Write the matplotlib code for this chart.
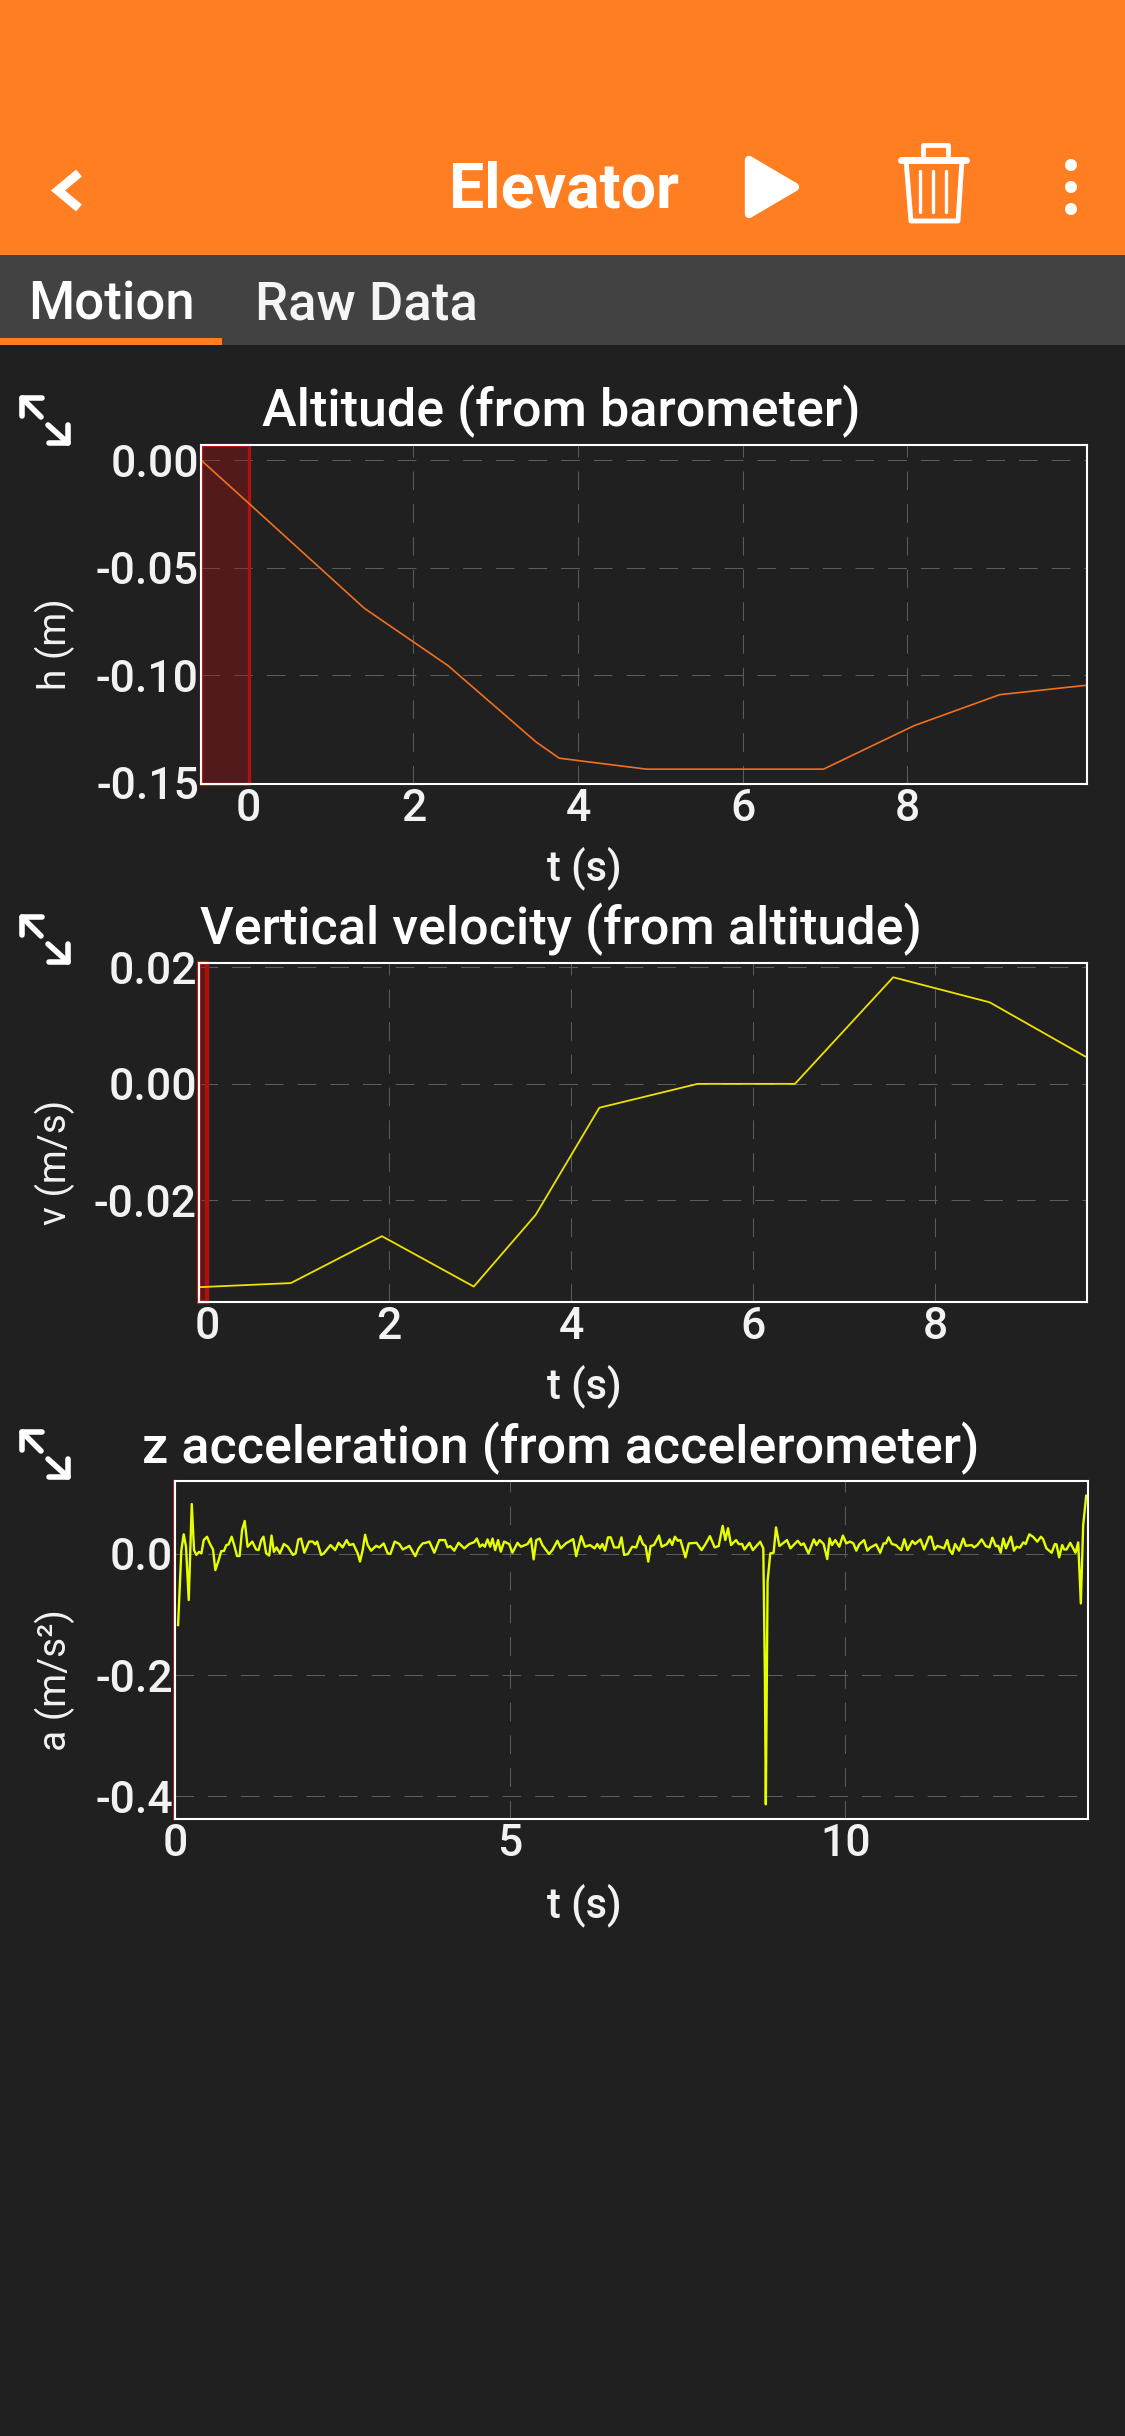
import matplotlib
matplotlib.use("Agg")
import matplotlib.pyplot as plt
from matplotlib.patches import Rectangle, Polygon, Circle

plt.rcParams['font.family'] = ['Roboto', 'DejaVu Sans']
plt.rcParams['font.weight'] = 'medium'

W = 1125
H = 2436
BG = '#202020'
ORANGE = '#FF7E22'

# altitude
alt_t = [-0.58, 0.0, 1.405, 2.42, 3.49, 3.77, 4.83, 6.98, 8.08, 9.12, 10.18]
alt_h = [0.0, -0.0201, -0.0689, -0.0955, -0.131, -0.1385, -0.1436, -0.1436, -0.1234, -0.109, -0.1046]

# velocity
vel_t = [-0.08, 0.92, 1.92, 2.93, 3.61, 4.31, 5.39, 6.46, 7.54, 8.6, 9.65]
vel_v = [-0.0349, -0.0342, -0.02615, -0.0348, -0.0225, -0.0041, 0.0, 0.0, 0.0183, 0.014, 0.0047]

acc_t = [0.046, 0.095, 0.13, 0.164, 0.205, 0.25, 0.284, 0.319, 0.359, 0.394, 0.428, 0.478, 0.518, 0.567, 0.602,
         0.652, 0.69, 0.73, 0.766, 0.80, 0.845, 0.89, 0.925, 0.964, 1.0, 1.04, 1.083, 1.153, 1.21, 1.247,
         1.287, 1.32, 1.36, 1.406, 1.44, 1.475, 1.515, 1.565, 1.624, 1.683, 1.76, 1.80, 1.84, 1.88, 1.93,
         2.0, 2.056, 2.09, 2.12, 2.18, 2.22, 2.32, 2.39, 2.44, 2.50, 2.56,
         2.60, 2.66, 2.726, 2.76, 2.80, 2.836, 2.875, 2.925, 3.0, 3.05, 3.113, 3.173, 3.213, 3.277, 3.347,
         3.397, 3.456, 3.496, 3.545, 3.585, 3.635, 3.694, 3.744, 3.794, 3.868, 3.943, 4.027, 4.067, 4.106,
         4.166, 4.23, 4.315, 4.39, 4.463, 4.503, 4.548, 4.588, 4.622, 4.662, 4.702, 4.737, 4.776, 4.82,
         4.86, 4.91, 4.985, 5.034, 5.11, 5.16, 5.26, 5.31, 5.35, 5.39, 5.44, 5.48, 5.58, 5.63, 5.705, 5.755,
         5.83, 5.94, 5.985, 6.06, 6.116, 6.19,
         6.26, 6.30, 6.34, 6.375, 6.415, 6.46, 6.50, 6.55, 6.62, 6.66, 6.70, 6.757, 6.82, 6.88, 6.936, 6.98,
         7.02, 7.06, 7.095, 7.145, 7.22, 7.26, 7.34, 7.38, 7.417, 7.457, 7.50, 7.54, 7.615, 7.665, 7.78,
         7.855, 7.915, 7.98, 8.05, 8.11, 8.17, 8.21, 8.25, 8.295, 8.37, 8.41, 8.46, 8.495, 8.57, 8.62, 8.73,
         8.776, 8.80, 8.814, 8.84, 8.88, 8.93, 8.966, 9.016, 9.13, 9.18, 9.29, 9.34, 9.38, 9.45, 9.53, 9.57,
         9.616, 9.676, 9.73, 9.765, 9.80, 9.85,
         9.91, 9.964, 10.014, 10.07, 10.12, 10.163, 10.207, 10.28, 10.327, 10.37, 10.46, 10.52, 10.57, 10.605,
         10.645, 10.694, 10.753, 10.793, 10.833, 10.88, 10.927, 11.0, 11.04, 11.12, 11.175, 11.25, 11.28,
         11.33, 11.374, 11.473, 11.52, 11.557, 11.597, 11.637, 11.697, 11.76, 11.796, 11.885, 11.92, 11.97,
         12.034, 12.094, 12.15, 12.193, 12.243, 12.28, 12.317, 12.357, 12.396, 12.47, 12.516, 12.555, 12.605,
         12.655, 12.69, 12.744, 12.80, 12.863, 12.918, 12.95, 13.0, 13.077, 13.126, 13.15, 13.19, 13.235,
         13.265, 13.3, 13.355, 13.434, 13.474, 13.513, 13.548, 13.593]
acc_a = [-0.1176, 0.006, 0.032, 0.0115, -0.0764, 0.082, 0.006, -0.002, 0.003, 0.0005, 0.0225, 0.028, 0.017, 0.007, -0.027,
         -0.0104, 0.0044, 0.0044, 0.0143, 0.0154, 0.028, 0.0115, -0.0038, -0.0038, 0.039, 0.054, 0.0115, 0.02, 0.007, 0.006,
         0.0225, 0.028, 0.0005, -0.003, 0.03, 0.003, 0.0104, 0.0005, 0.016, 0.0115, -0.002, 0.0005, 0.0236, 0.025, 0.0016,
         0.02, 0.02, 0.0154, 0.02, -0.002, 0.0005, 0.0143, 0.006, 0.018, 0.0104, 0.0225,
         0.0143, 0.016, 0.0005, -0.013, 0.006, 0.0313, 0.0143, 0.005, 0.013, 0.0104, 0.017, 0.0005, -0.0005, 0.02, 0.016,
         0.007, 0.0104, 0.013, 0.0033, -0.004, 0.0088, 0.017, 0.018, 0.02, 0.0016, 0.0225, 0.0225, 0.0104, 0.0126,
         0.005, 0.018, 0.0088, 0.016, 0.019, 0.025, 0.0115, 0.0154, 0.0115, 0.0236, 0.0115, 0.025, 0.006, 0.0225,
         0.0033, 0.02, 0.016, 0.0016, 0.018, 0.0115, 0.016, 0.025, -0.0093, 0.0225, 0.025, 0.0143, -0.0005, 0.006, 0.0214, 0.0088,
         0.017, 0.024, -0.004, 0.029, 0.0115, 0.0143,
         0.0088, 0.016, 0.0088, 0.016, 0.005, 0.027, 0.027, 0.0104, 0.0104, 0.027, -0.002, -0.0005, 0.0115, 0.0104, 0.029, 0.016,
         0.0126, -0.013, 0.0126, 0.0143, 0.03, 0.0115, 0.016, 0.0236, 0.0143, 0.028, 0.0214, 0.0225, -0.006, 0.017, 0.018,
         0.006, 0.016, 0.029, 0.0104, 0.0126, 0.046, 0.0225, 0.042, 0.0143, 0.0225, 0.016, 0.016, 0.007, 0.018, 0.006, 0.0198,
         0.0088, -0.203, -0.4132, -0.046, 0.0005, 0.0016, 0.0434, 0.0126, 0.0225, 0.0088, 0.0214, 0.0143, 0.017, 0.0005, 0.0236, 0.0143,
         0.0225, 0.016, -0.0088, 0.0253, 0.0143, 0.0225,
         0.0115, 0.03, 0.017, 0.02, 0.017, 0.005, 0.0154, 0.0225, 0.005, 0.01, 0.0154, 0.0016, 0.017, 0.017,
         0.027, 0.016, 0.0143, 0.01, 0.006, 0.024, 0.006, 0.021, 0.016, 0.0236, 0.007, 0.028, 0.028,
         0.007, 0.013, 0.0088, 0.0225, 0.006, -0.0005, 0.016, 0.005, 0.025, 0.013, 0.0143, 0.0104, 0.0143,
         0.0236, 0.0126, 0.0104, 0.0264, 0.0126, 0.013, 0.0016, 0.025, 0.0088, 0.028, 0.005, 0.0115, 0.01,
         0.0187, 0.016, 0.032, 0.028, 0.02, 0.028, 0.024, 0.0088, 0.0016, 0.016, 0.0154, -0.006, 0.0143,
         0.007, 0.007, 0.018, 0.0016, 0.0187, -0.082, 0.047, 0.0956]

alt_xticks = [0, 2, 4, 6, 8]
alt_yticks = [0.0, -0.05, -0.10, -0.15]
alt_ylabels = ['0.00', '-0.05', '-0.10', '-0.15']
vel_xticks = [0, 2, 4, 6, 8]
vel_yticks = [0.02, 0.0, -0.02]
vel_ylabels = ['0.02', '0.00', '-0.02']
acc_xticks = [0, 5, 10]
acc_yticks = [0.0, -0.2, -0.4]
acc_ylabels = ['0.0', '-0.2', '-0.4']

fig = plt.figure(figsize=(W / 100, H / 100), dpi=100, facecolor=BG)

# full size overlay in pixel coordinates for the app chrome
ui = fig.add_axes([0, 0, 1, 1], zorder=5)
ui.set_xlim(0, W)
ui.set_ylim(H, 0)
ui.axis('off')
ui.patch.set_alpha(0)


def make_axes(left, right, top, bottom, xlim, ylim, xticks, yticks, ylabels, ylabel, ylab_x, band, band_lw):
    ax = fig.add_axes([left / W, 1 - bottom / H, (right - left) / W, (bottom - top) / H], facecolor=BG)
    ax.set_xlim(*xlim)
    ax.set_ylim(*ylim)
    ax.set_xticks(xticks)
    ax.set_xticklabels([str(x) for x in xticks])
    ax.set_yticks(yticks)
    ax.set_yticklabels(ylabels)
    ax.tick_params(length=0, labelsize=32, labelcolor='#f2f2f2', pad=3)
    ax.tick_params(axis='y', pad=1.5)
    ax.grid(True, color='#5c5c5c', lw=0.72, linestyle=(0, (18.7, 14)))
    ax.set_axisbelow(True)
    for s in ax.spines.values():
        s.set_color('white')
        s.set_linewidth(1.5)
        s.set_zorder(4)
    ax.set_ylabel(ylabel, fontsize=28, color='#f2f2f2')
    ax.yaxis.set_label_coords(ylab_x, 0.412)
    # selected time range, drawn slightly over the frame
    ax.axvspan(band, 0, facecolor='#b01010', alpha=0.35, lw=0, zorder=2)
    ax.add_patch(Rectangle((band, ylim[0]), -band, ylim[1] - ylim[0], fill=False, edgecolor='#b01010',
                           lw=band_lw, clip_on=False, zorder=3))
    return ax


ax1 = make_axes(201, 1087, 445, 784, (-0.58, 10.18), (-0.1505, 0.007), alt_xticks, alt_yticks, alt_ylabels,
                'h (m)', -0.142, -0.58, 2.4)
ax1.plot(alt_t, alt_h, color='#F07020', lw=1.2, zorder=3)

ax2 = make_axes(199, 1087, 962.7, 1301.7, (-0.09, 9.67), (-0.0374, 0.0208), vel_xticks, vel_yticks, vel_ylabels,
                'v (m/s)', -0.14, -0.09, 3.2)
ax2.plot(vel_t, vel_v, color='#EEE000', lw=1.3, zorder=3)

ax3 = make_axes(175, 1088, 1480.7, 1819, (0.02, 13.62), (-0.4374, 0.1204), acc_xticks, acc_yticks, acc_ylabels,
                'a (m/s²)', -0.11, -0.02, 1.5)
ax3.plot(acc_t, acc_a, color='#E6FF00', lw=1.7, zorder=3)

# header
ui.add_patch(Rectangle((0, 0), W, 255, fc=ORANGE, ec='none'))
ui.add_patch(Rectangle((0, 255), W, 90, fc='#424242', ec='none'))
ui.add_patch(Rectangle((0, 338), 222, 7, fc=ORANGE, ec='none'))
ui.text(449, 207, 'Elevator', color='white', fontsize=45, fontweight='bold', va='baseline')
ui.text(28, 319, 'Motion', color='white', fontsize=38, va='baseline')
ui.text(255, 319, 'Raw Data', color='#f5f5f5', fontsize=38, va='baseline')

# back chevron
ui.plot([79, 58, 79], [173, 190.5, 208], color='white', lw=6.5, solid_capstyle='butt', solid_joinstyle='miter')
# play
ui.add_patch(Polygon([(749, 160), (795, 187), (749, 214)], fc='white', ec='white', lw=6, joinstyle='round'))
# trash can
ui.plot([906, 911, 958, 962], [160, 221, 221, 160], color='white', lw=3.5, solid_joinstyle='round')
ui.plot([901, 966], [160, 160], color='white', lw=5, solid_capstyle='round')
ui.plot([923, 923, 948, 948], [158, 145, 145, 158], color='white', lw=3.5, solid_joinstyle='round')
for x in (920, 933, 946):
    ui.plot([x, x], [171, 212], color='white', lw=2.4, solid_capstyle='round')
# menu dots
for y in (165, 187, 209):
    ui.add_patch(Circle((1071, y), 6, fc='white', ec='none'))

# chart titles and x labels
titles = ['Altitude (from barometer)', 'Vertical velocity (from altitude)', 'z acceleration (from accelerometer)']
title_y = [426.5, 944.5, 1463]
xlabel_y = [880, 1398, 1917]
icon_dy = [0, 519, 1034]
for title, ty, ly, dy in zip(titles, title_y, xlabel_y, icon_dy):
    ui.text(561, ty, title, color='white', fontsize=37.5, ha='center', va='baseline')
    ui.text(584, ly, 't (s)', color='#f2f2f2', fontsize=30, ha='center', va='baseline')
    # expand icon
    ui.plot([42, 22, 22], [398 + dy, 398 + dy, 416 + dy], color='white', lw=4, solid_joinstyle='round', solid_capstyle='round')
    ui.plot([22, 41], [398 + dy, 417 + dy], color='white', lw=4, solid_capstyle='round')
    ui.plot([49, 68, 68], [443 + dy, 443 + dy, 425 + dy], color='white', lw=4, solid_joinstyle='round', solid_capstyle='round')
    ui.plot([48, 68], [425 + dy, 443 + dy], color='white', lw=4, solid_capstyle='round')

fig.savefig('out.png', dpi=100, facecolor=BG)
